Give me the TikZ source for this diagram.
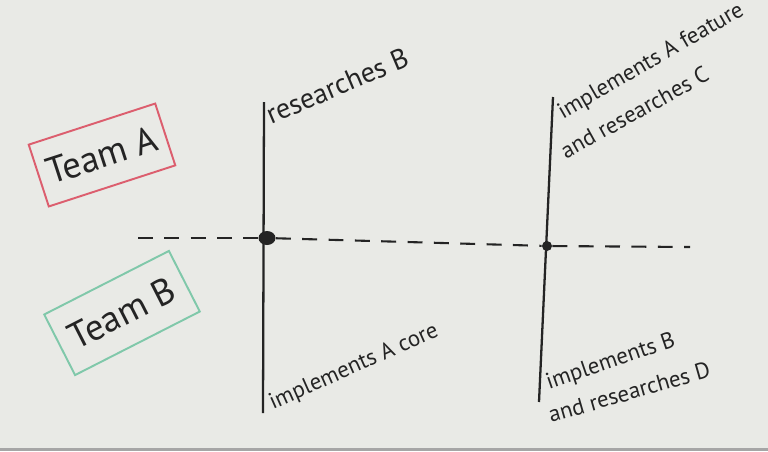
\documentclass[tikz,border=0pt]{standalone}
\usepackage{xcolor}
\usepackage{tikz}
\usepackage{fontspec}
\setmainfont{PT Sans}
\usetikzlibrary{shapes.geometric}

\definecolor{board}{RGB}{233,234,230}
\definecolor{marker}{RGB}{36,36,36}
\definecolor{teamred}{RGB}{220,94,110}
\definecolor{teamgreen}{RGB}{128,200,170}

\tikzset{
	teambox/.style={draw, line width=1.1pt, inner sep=0pt, text=marker, font=\fontsize{21}{24}\selectfont},
	timeline/.style={draw=marker, line width=1.3pt},
	dashline/.style={draw=marker, line width=1.2pt, dash pattern=on 8.5pt off 6.5pt},
	meetdot/.style={ellipse, fill=marker, inner sep=0pt},
	note/.style={inner sep=0.5pt, text=marker, anchor=base west, font=\fontsize{13}{16}\selectfont}
}

\begin{document}
\begin{tikzpicture}[x=0.02cm, y=-0.02cm]
	\fill[board] (0,0) rectangle (768,451);
	\fill[black!35] (0,448) rectangle (768,451);
	\useasboundingbox (0,0) rectangle (768,451);

	\node[teambox, draw=teamred, rotate=18, minimum width=2.66cm, minimum height=1.3cm] (teamA) at (102,155) {Team A};
	\node[teambox, draw=teamgreen, rotate=27, minimum width=2.8cm, minimum height=1.36cm] (teamB) at (122,313) {Team B};

	\coordinate (startL) at (138,238);
	\coordinate (startR) at (690,247);
	\node[meetdot, minimum width=0.34cm, minimum height=0.28cm] (meetA) at (267,238) {};
	\node[meetdot, minimum width=0.2cm, minimum height=0.2cm] (meetB) at (547,246) {};

	\coordinate (lineAtop) at (264,102);
	\coordinate (lineAbot) at (263,413);
	\coordinate (lineBtop) at (553,97);
	\coordinate (lineBbot) at (539,402);

	\draw[timeline] (lineAtop) -- (lineAbot);
	\draw[timeline] (lineBtop) -- (lineBbot);
	\draw[dashline] (startL) -- (meetA);
	\draw[dashline] (meetA) -- (meetB);
	\draw[dashline] (meetB) -- (startR);

	\node[note, rotate=23, font=\fontsize{16}{20}\selectfont] (noteA1) at (270,125) {researches B};
	\node[note, rotate=24] (noteB1) at (272,410) {implements A core};
	\node[note, rotate=30] (noteA2) at (562,120) {implements A feature};
	\node[note, rotate=29] (noteA3) at (565,160) {and researches C};
	\node[note, rotate=19] (noteB2) at (548,390) {implements B};
	\node[note, rotate=16] (noteB3) at (550,423) {and researches D};
\end{tikzpicture}
\end{document}
